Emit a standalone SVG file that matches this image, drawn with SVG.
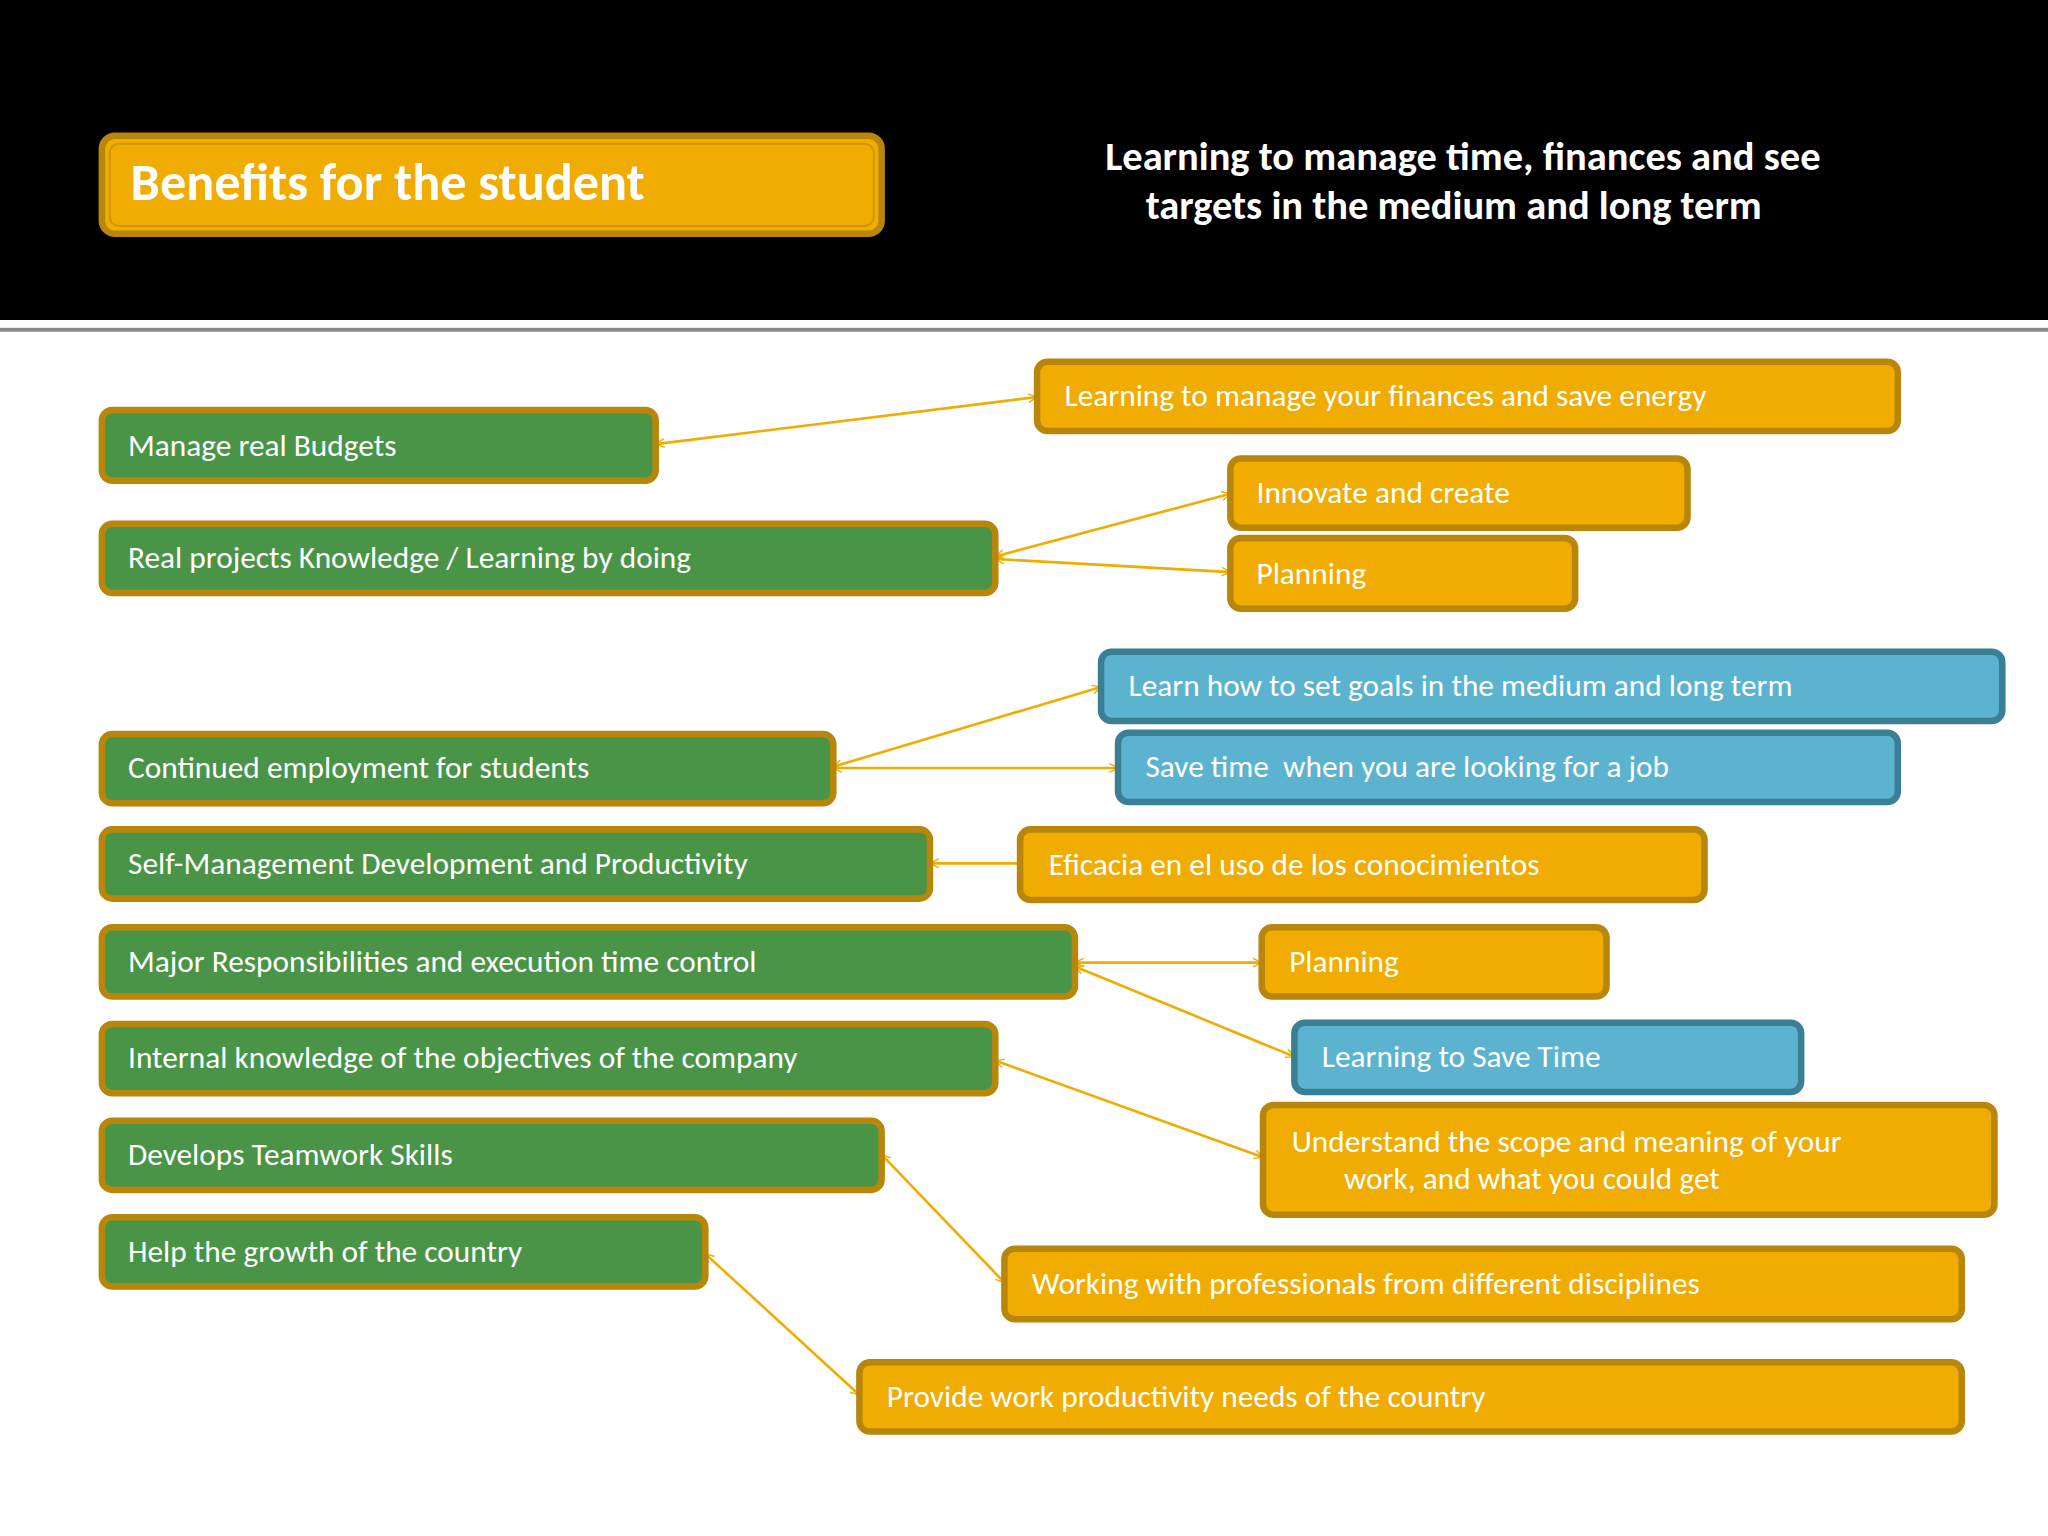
<svg xmlns="http://www.w3.org/2000/svg" width="2048" height="1536" viewBox="0 0 2048 1536">
<style>
text{font-family:Calibri,"Liberation Sans","DejaVu Sans",sans-serif;fill:#fff}
.g rect{fill:#4A9448;stroke:#B8860B;stroke-width:5}
.o rect{fill:#F0AC00;stroke:#B8860B;stroke-width:5}
.b rect{fill:#5BB3CF;stroke:#3B7F95;stroke-width:5}
.in{fill:none!important;stroke-width:1.5!important;opacity:.6}
.t{font-size:24px}
.c line{stroke:#F0AC00;stroke-width:2;marker-start:url(#a);marker-end:url(#a)}
</style>
<defs><marker id="a" viewBox="0 0 12 12" refX="11" refY="6" markerWidth="8" markerHeight="8" orient="auto-start-reverse" markerUnits="userSpaceOnUse"><path d="M1 1 L11 6 L1 11" fill="none" stroke="#F0AC00" stroke-width="1.6"/></marker></defs>
<rect width="2048" height="1536" fill="#fff"/>
<g transform="scale(1.30612)">
<rect x="0" y="0" width="1568" height="245" fill="#000"/>
<rect x="0" y="251" width="1568" height="3" fill="#888"/>
<g id="title" class="o"><rect x="78" y="104" width="597" height="75" rx="10"/><rect class="in" x="84" y="110" width="585" height="63" rx="7"/><text x="100" y="153" style="font-size:40px;font-weight:bold">Benefits for the student</text></g>
<g id="subtitle"><text x="1120" y="130" text-anchor="middle" style="font-size:31px;font-weight:bold">Learning to manage time, finances and see</text><text x="1113" y="168" text-anchor="middle" style="font-size:31px;font-weight:bold">targets in the medium and long term</text></g>
<g class="c" id="connectors">
<line x1="502" y1="340" x2="794" y2="304"/>
<line x1="762" y1="426" x2="942" y2="378"/>
<line x1="762" y1="428" x2="942" y2="438"/>
<line x1="638" y1="587" x2="843" y2="526"/>
<line x1="638" y1="588" x2="856" y2="588"/>
<line x1="781" y1="661" x2="712" y2="661" style="marker-start:none"/>
<line x1="823" y1="737" x2="966" y2="737"/>
<line x1="823" y1="740" x2="991" y2="809"/>
<line x1="762" y1="812" x2="967" y2="886"/>
<line x1="675" y1="884" x2="769" y2="982"/>
<line x1="540" y1="960" x2="658" y2="1068"/>
</g>
<g id="g1" class="g"><rect x="78" y="314" width="424" height="54" rx="8"/><text class="t" x="98" y="349">Manage real Budgets</text></g>
<g id="g2" class="g"><rect x="78" y="401" width="684" height="53" rx="8"/><text class="t" x="98" y="435">Real projects Knowledge / Learning by doing</text></g>
<g id="g3" class="g"><rect x="78" y="562" width="560" height="53" rx="8"/><text class="t" x="98" y="596">Continued employment for students</text></g>
<g id="g4" class="g"><rect x="78" y="635" width="634" height="53" rx="8"/><text class="t" x="98" y="669">Self-Management Development and Productivity</text></g>
<g id="g5" class="g"><rect x="78" y="710" width="745" height="53" rx="8"/><text class="t" x="98" y="744">Major Responsibilities and execution time control</text></g>
<g id="g6" class="g"><rect x="78" y="784" width="684" height="53" rx="8"/><text class="t" x="98" y="818">Internal knowledge of the objectives of the company</text></g>
<g id="g7" class="g"><rect x="78" y="858" width="597" height="53" rx="8"/><text class="t" x="98" y="892">Develops Teamwork Skills</text></g>
<g id="g8" class="g"><rect x="78" y="932" width="462" height="53" rx="8"/><text class="t" x="98" y="966">Help the growth of the country</text></g>
<g id="r1" class="o"><rect x="794" y="277" width="659" height="53" rx="8"/><text class="t" x="815" y="311">Learning to manage your finances and save energy</text></g>
<g id="r2" class="o"><rect x="942" y="351" width="350" height="53" rx="8"/><text class="t" x="962" y="385">Innovate and create</text></g>
<g id="r3" class="o"><rect x="942" y="412" width="264" height="54" rx="8"/><text class="t" x="962" y="447">Planning</text></g>
<g id="r4" class="b"><rect x="843" y="499" width="690" height="53" rx="8"/><text class="t" x="864" y="533">Learn how to set goals in the medium and long term</text></g>
<g id="r5" class="b"><rect x="856" y="561" width="597" height="53" rx="8"/><text class="t" x="877" y="595" xml:space="preserve">Save time  when you are looking for a job</text></g>
<g id="r6" class="o"><rect x="781" y="635" width="524" height="54" rx="8"/><text class="t" x="803" y="670">Eficacia en el uso de los conocimientos</text></g>
<g id="r7" class="o"><rect x="966" y="710" width="264" height="53" rx="8"/><text class="t" x="987" y="744">Planning</text></g>
<g id="r8" class="b"><rect x="991" y="783" width="388" height="53" rx="8"/><text class="t" x="1012" y="817">Learning to Save Time</text></g>
<g id="r9" class="o"><rect x="967" y="846" width="560" height="84" rx="8"/><text class="t" x="989" y="882">Understand the scope and meaning of your</text><text class="t" x="1029" y="910">work, and what you could get</text></g>
<g id="r10" class="o"><rect x="769" y="956" width="733" height="54" rx="8"/><text class="t" x="790" y="991">Working with professionals from different disciplines</text></g>
<g id="r11" class="o"><rect x="658" y="1043" width="844" height="53" rx="8"/><text class="t" x="679" y="1077">Provide work productivity needs of the country</text></g>
</g>
</svg>
